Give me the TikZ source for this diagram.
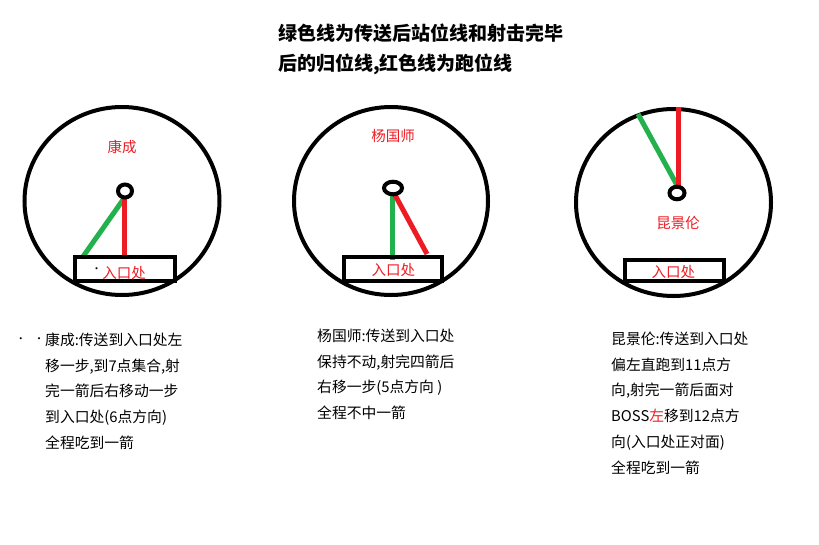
\documentclass[tikz,border=0pt]{standalone}
\usepackage{fontspec}
\setmainfont{Noto Sans CJK SC}
\usetikzlibrary{shapes.geometric}
\definecolor{pred}{RGB}{237,28,36}
\definecolor{pgreen}{RGB}{34,177,76}
\begin{document}
\begin{tikzpicture}[x=1pt,y=-1pt,
  ring/.style={draw=black,line width=4pt},
  hub/.style={ellipse,draw=black,line width=4pt,inner sep=0pt,outer sep=0pt},
  gline/.style={draw=pgreen,line width=5pt},
  rline/.style={draw=pred,line width=5pt},
  boxnode/.style={draw=black,line width=4.3pt,inner sep=0pt,outer sep=0pt},
  lab/.style={text=pred,inner sep=0pt,font=\fontsize{14.5}{14.5}\selectfont},
  txt/.style={anchor=base west,inner sep=0pt,font=\fontsize{14.8}{14.8}\selectfont},
  ttl/.style={anchor=base west,inner sep=0pt,font=\bfseries\fontsize{19}{19}\selectfont},
  dotnode/.style={inner sep=0pt,font=\fontsize{10}{10}\selectfont}]
\useasboundingbox[fill=white] (0,0) rectangle (819,544);

% title
\node[ttl] (t1) at (278,40) {绿色线为传送后站位线和射击完毕};
\node[ttl] (t2) at (278,70) {后的归位线,红色线为跑位线};

% ---- diagram 1
\draw[ring] (122,201) ellipse [x radius=97.5pt, y radius=94pt];
\coordinate (g1a) at (125,197); \coordinate (g1b) at (82,258);
\coordinate (r1a) at (124,198); \coordinate (r1b) at (124,259);
\draw[gline] (g1a) -- (g1b);
\draw[rline] (r1a) -- (r1b);
\node[hub,minimum width=14pt,minimum height=13pt] (h1) at (125,191) {};
\node[boxnode,minimum width=100pt,minimum height=24pt] (b1) at (125,269) {};
\node[lab] (e1) at (124,273) {入口处};
\node[dotnode] (d0) at (96.5,270) {·};
\node[lab] (n1) at (122,147) {康成};

% ---- diagram 2
\draw[ring] (391,201) ellipse [x radius=97pt, y radius=94pt];
\coordinate (g2a) at (392,195); \coordinate (g2b) at (392,260);
\coordinate (r2a) at (395,195); \coordinate (r2b) at (427,254);
\draw[gline] (g2a) -- (g2b);
\draw[rline] (r2a) -- (r2b);
\node[hub,minimum width=18pt,minimum height=12.6pt] (h2) at (393,188) {};
\node[boxnode,minimum width=98pt,minimum height=24pt] (b2) at (393,269) {};
\node[lab] (e2) at (393.3,270) {入口处};
\node[lab] (n2) at (393,136) {杨国师};

% ---- diagram 3
\draw[ring] (673.5,202.5) ellipse [x radius=97.5pt, y radius=93.5pt];
\coordinate (g3a) at (678,187); \coordinate (g3b) at (638,114);
\coordinate (r3a) at (678,187); \coordinate (r3b) at (678,107);
\draw[gline] (g3a) -- (g3b);
\draw[rline] (r3a) -- (r3b);
\node[hub,minimum width=15pt,minimum height=12.6pt] (h3) at (677,193) {};
\node[boxnode,minimum width=99pt,minimum height=21pt] (b3) at (674.5,270.5) {};
\node[lab] (e3) at (673.3,271.7) {入口处};
\node[lab] (n3) at (678,223) {昆景伦};

% ---- text block 1
\node[dotnode] (d1) at (21,340) {·};
\node[dotnode] (d2) at (39,340) {·};
\node[txt] (a1) at (45,345.5) {康成:传送到入口处左};
\node[txt] (a2) at (45,371.2) {移一步,到7点集合,射};
\node[txt] (a3) at (45,396.9) {完一箭后右移动一步};
\node[txt] (a4) at (45,422.6) {到入口处(6点方向)};
\node[txt] (a5) at (45,448.3) {全程吃到一箭};

% ---- text block 2
\node[txt] (c1) at (317,341.5) {杨国师:传送到入口处};
\node[txt] (c2) at (317,367.2) {保持不动,射完四箭后};
\node[txt] (c3) at (317,392.9) {右移一步(5点方向 )};
\node[txt] (c4) at (317,418.6) {全程不中一箭};

% ---- text block 3
\node[txt] (k1) at (611,344.5) {昆景伦:传送到入口处};
\node[txt] (k2) at (611,370.2) {偏左直跑到11点方};
\node[txt] (k3) at (611,395.9) {向,射完一箭后面对};
\node[txt] (k4) at (611,421.6) {BOSS{\color{pred}左}移到12点方};
\node[txt] (k5) at (611,447.3) {向(入口处正对面)};
\node[txt] (k6) at (611,473) {全程吃到一箭};
\end{tikzpicture}
\end{document}
